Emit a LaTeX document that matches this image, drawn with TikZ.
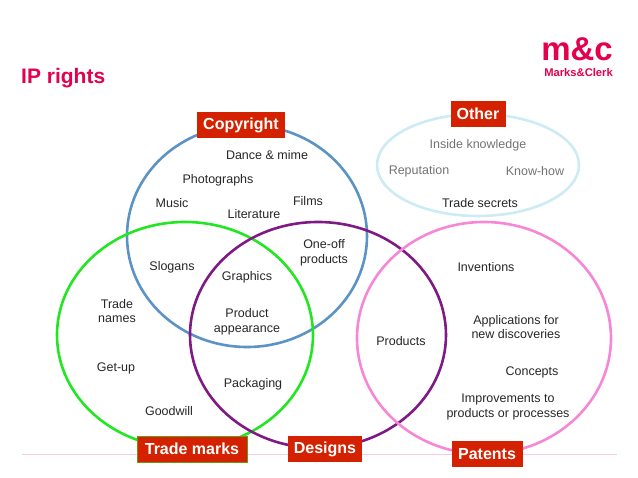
\documentclass[tikz,border=0pt]{standalone}
\usepackage{fontspec}
\setmainfont{Liberation Sans}
\definecolor{brandred}{HTML}{E2004F}
\definecolor{tagred}{HTML}{D42200}
\definecolor{copyblue}{HTML}{5B93C4}
\definecolor{othercyan}{HTML}{CDEBF5}
\definecolor{markgreen}{HTML}{22E622}
\definecolor{designpurple}{HTML}{7F1A85}
\definecolor{patentpink}{HTML}{F587D6}
\definecolor{rulepink}{HTML}{F7CBE3}
\begin{document}
\begin{tikzpicture}[x=1pt,y=-1pt]
	\tikzstyle{every node}=[font=\fontsize{12.5}{14.5}\selectfont,align=center,text=black!85,inner sep=0pt]
	\tikzstyle{ring}=[line width=2.6pt,draw]
	\tikzstyle{tag}=[fill=tagred,text=white,font=\fontsize{16}{18}\selectfont\bfseries,minimum height=26pt,inner sep=0pt]
	\useasboundingbox (0,0) rectangle (638,478);

	\draw[rulepink,line width=0.8pt] (22,454) coordinate (ruleL) -- (617,454) coordinate (ruleR);

	\node[text=brandred,font=\fontsize{21}{24}\selectfont\bfseries,anchor=west] (Title) at (21,78) {IP rights};
	\node[text=brandred,font=\fontsize{33}{30}\selectfont\bfseries,anchor=east,text height=19pt,text depth=0pt] (LogoMark) at (613,51) {m\&c};
	\node[text=brandred,font=\fontsize{11.2}{12}\selectfont\bfseries,anchor=east] (LogoName) at (613,73) {Marks\&Clerk};

	% the five circles
	\draw[ring,copyblue] (247,236) ellipse (120 and 111);
	\draw[ring,othercyan] (478,165) ellipse (101 and 51);
	\draw[ring,markgreen] (185,335) ellipse (128 and 113);
	\draw[ring,designpurple] (318,335) ellipse (128 and 113);
	\draw[ring,patentpink] (484,338) ellipse (127 and 116);

	% the tags on top of them
	\node[tag,minimum width=88pt] (Copyright) at (241,125) {Copyright};
	\node[tag,minimum width=55pt] (Other) at (478,114) {Other};
	\node[tag,minimum width=110pt,draw=markgreen!60!tagred,line width=0.6pt] (TradeMarks) at (192,449) {Trade marks};
	\node[tag,minimum width=74pt] (Designs) at (325,449) {Designs};
	\node[tag,minimum width=71pt] (Patents) at (487,454) {Patents};

	\begin{scope}
		\node (a1) at (267,155) {Dance \& mime};
		\node (a2) at (218,180) {Photographs};
		\node (a3) at (172,203) {Music};
		\node (a4) at (254,214) {Literature};
		\node (a5) at (308,201) {Films};
		\node (a6) at (324,253) {One-off\\products};
		\node (a7) at (172,267) {Slogans};
		\node (a8) at (247,277) {Graphics};
		\node (a9) at (117,311) {Trade\\names};
		\node (a10) at (247,322) {Product\\appearance};
		\node (a11) at (116,368) {Get-up};
		\node (a12) at (253,384) {Packaging};
		\node (a13) at (169,411) {Goodwill};
		\node (a14) at (401,341) {Products};
		\node (a15) at (486,267) {Inventions};
		\node (a16) at (516,327) {Applications for\\new discoveries};
		\node (a17) at (532,372) {Concepts};
		\node (a18) at (508,407) {Improvements to\\products or processes};
		\node (a19) at (480,203) {Trade secrets};
	\end{scope}

	\begin{scope}[nodes={text=black!55}]
		\node (b1) at (478,145) {Inside knowledge};
		\node (b2) at (419,171) {Reputation};
		\node (b3) at (535,171) {Know-how};
	\end{scope}
\end{tikzpicture}
\end{document}
